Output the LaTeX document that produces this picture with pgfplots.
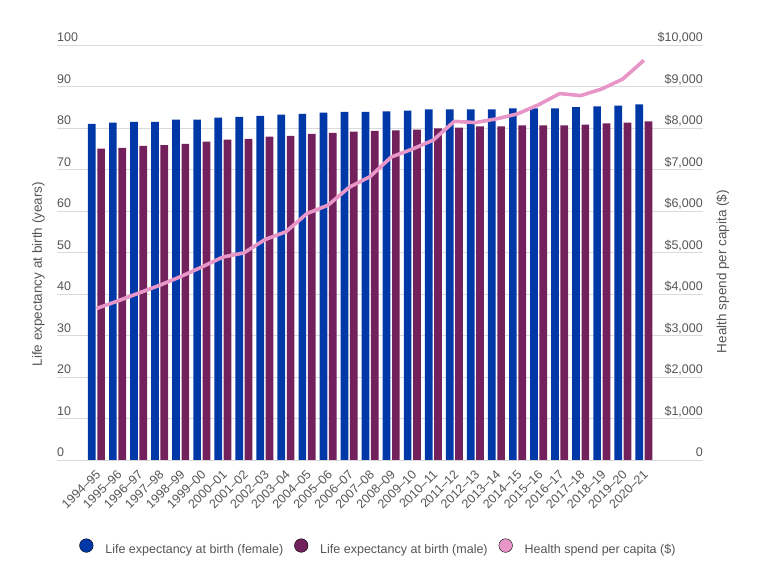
\documentclass[border=0pt]{standalone}
\usepackage{fontspec}
\setmainfont{Liberation Sans}
\usepackage{pgfplots}
\pgfplotsset{compat=1.18}

\definecolor{femblue}{RGB}{0,56,168}
\definecolor{maleplum}{RGB}{114,33,93}
\definecolor{spendpink}{RGB}{232,150,200}
\definecolor{textgray}{RGB}{85,85,85}
\definecolor{gridgray}{RGB}{218,218,218}

\newcommand{\ticksize}{\fontsize{12.5bp}{15bp}\selectfont}
\newcommand{\labelsize}{\fontsize{13.5bp}{16bp}\selectfont}

\pgfplotsset{
  common/.style={
    at={(57bp,127bp)}, anchor=south west,
    scale only axis, width=646bp, height=415bp,
    xmin=-1.876, xmax=28.81,
    axis line style={draw=none},
    major tick length=0pt,
    /pgf/number format/assume math mode=true,
    tick label style={font=\ticksize, text=textgray},
    label style={font=\labelsize, text=textgray},
  }
}

\begin{document}
\begin{tikzpicture}[x=1bp,y=1bp]
\useasboundingbox (0,0) rectangle (761,587);

% Left axis: life expectancy bars
\begin{axis}[common,
  ymin=0, ymax=100,
  ytick={0,10,...,100},
  yticklabels={0,10,20,30,40,50,60,70,80,90,100},
  yticklabel style={anchor=base west, inner sep=0pt, yshift=3bp},
  ymajorgrids, grid style={gridgray, line width=0.9bp},
  xtick={0,...,26},
  xticklabels={1994--95,1995--96,1996--97,1997--98,1998--99,1999--00,2000--01,2001--02,2002--03,2003--04,2004--05,2005--06,2006--07,2007--08,2008--09,2009--10,2010--11,2011--12,2012--13,2013--14,2014--15,2015--16,2016--17,2017--18,2018--19,2019--20,2020--21},
  xticklabel style={yshift=-12bp, xshift=2bp, rotate=45, anchor=east, inner sep=0pt},
  ylabel={Life expectancy at birth (years)},
  ylabel style={at={(axis description cs:-0.029,0.448)}, anchor=center},
]
\addplot[ybar, bar width=7.7bp, bar shift=-4.65bp, fill=femblue, draw=none] coordinates {
  (0,81.0) (1,81.3) (2,81.5) (3,81.5) (4,82.0) (5,82.0) (6,82.5) (7,82.7) (8,82.9)
  (9,83.2) (10,83.4) (11,83.7) (12,83.9) (13,83.9) (14,84.0) (15,84.2) (16,84.5)
  (17,84.5) (18,84.5) (19,84.5) (20,84.7) (21,84.7) (22,84.7) (23,85.0) (24,85.2)
  (25,85.4) (26,85.7)
};
\addplot[ybar, bar width=7.7bp, bar shift=4.65bp, fill=maleplum, draw=none] coordinates {
  (0,75.0) (1,75.2) (2,75.7) (3,75.9) (4,76.2) (5,76.7) (6,77.2) (7,77.4) (8,77.9)
  (9,78.1) (10,78.6) (11,78.8) (12,79.1) (13,79.3) (14,79.4) (15,79.6) (16,79.9)
  (17,80.1) (18,80.4) (19,80.4) (20,80.6) (21,80.6) (22,80.6) (23,80.8) (24,81.1)
  (25,81.3) (26,81.6)
};
\end{axis}

% Right axis: health spend per capita
\begin{axis}[common,
  ymin=0, ymax=10000,
  scaled y ticks=false,
  xtick=\empty,
  ytick={0,1000,...,10000},
  yticklabels={{0},{\$1,000},{\$2,000},{\$3,000},{\$4,000},{\$5,000},{\$6,000},{\$7,000},{\$8,000},{\$9,000},{\$10,000}},
  yticklabel pos=right,
  yticklabel style={anchor=base east, inner sep=0pt, yshift=3bp},
  ylabel={Health spend per capita (\$)},
  ylabel style={at={(axis description cs:1.0305,0.454)}, anchor=center},
  legend columns=3,
  legend style={
    at={(axis description cs:0.496,-0.2096)}, anchor=center,
    draw=none, fill=none, inner sep=0pt,
    font=\ticksize, text=textgray,
    nodes={inner sep=0pt},
    /tikz/every odd column/.append style={column sep=12bp},
    /tikz/every even column/.append style={column sep=11bp},
  },
  legend image code/.code={\fill[#1] (6.8bp,4.5bp) circle (6.8bp);},
]
\addplot[spendpink, line width=3.6bp, line join=round, forget plot] coordinates {
  (0,3650) (1,3830) (2,4020) (3,4210) (4,4420) (5,4650) (6,4890) (7,4990) (8,5310)
  (9,5500) (10,5940) (11,6140) (12,6570) (13,6830) (14,7300) (15,7490) (16,7710)
  (17,8160) (18,8130) (19,8220) (20,8340) (21,8560) (22,8830) (23,8780) (24,8940)
  (25,9180) (26,9630)
};
\addlegendimage{fill=femblue}
\addlegendentry{Life expectancy at birth (female)}
\addlegendimage{fill=maleplum}
\addlegendentry{Life expectancy at birth (male)}
\addlegendimage{fill=spendpink}
\addlegendentry{Health spend per capita (\$)}
\end{axis}
\end{tikzpicture}
\end{document}
